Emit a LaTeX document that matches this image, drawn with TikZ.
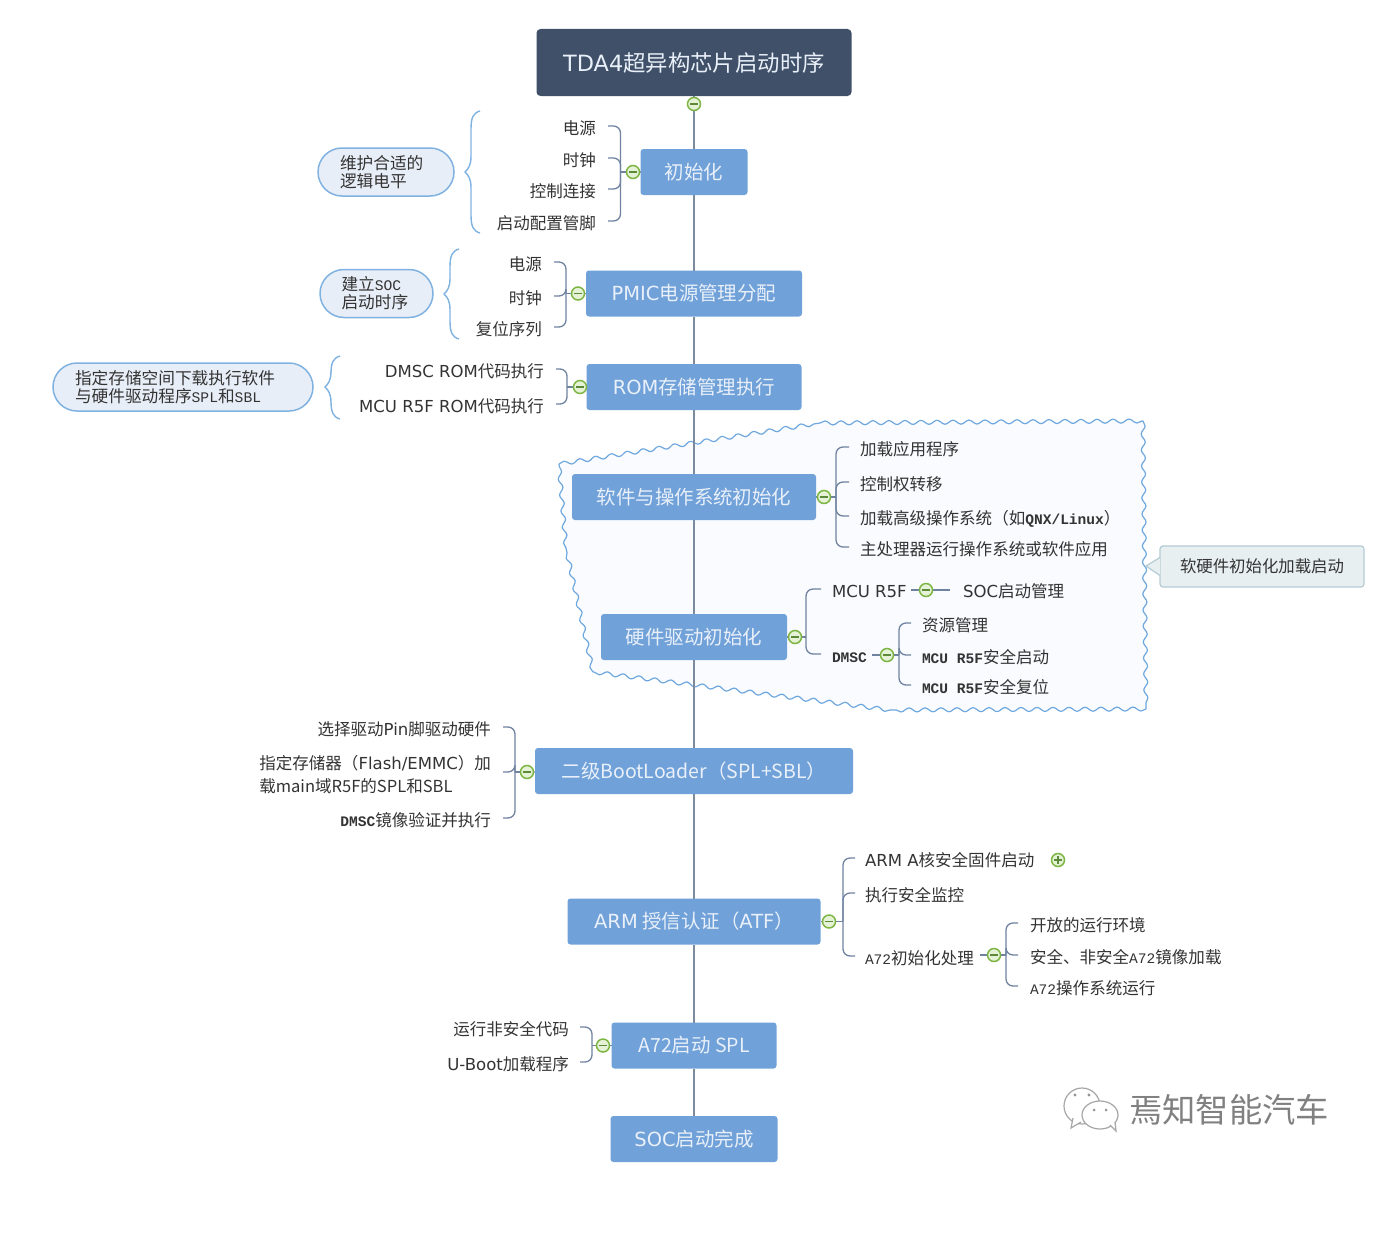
\documentclass[tikz,border=0pt]{standalone}
\usepackage{fontspec}
\setmainfont{Noto Sans CJK SC}
\newfontfamily\lat{DejaVu Sans}
\newfontfamily\mono[Scale=0.88]{Liberation Mono}
\usetikzlibrary{decorations.pathmorphing,backgrounds}
\definecolor{titlefill}{HTML}{3F5068}
\definecolor{boxfill}{HTML}{70A1D9}
\definecolor{boxtext}{HTML}{E9F0F9}
\definecolor{spinecol}{HTML}{7B8A9C}
\definecolor{branchcol}{HTML}{6F83A0}
\definecolor{togline}{HTML}{7DB544}
\definecolor{togfill}{HTML}{E6F2D6}
\definecolor{togbar}{HTML}{5C8A3A}
\definecolor{pillfill}{HTML}{E8EEF7}
\definecolor{pillline}{HTML}{7FB2E0}
\definecolor{wavefill}{HTML}{F9FBFE}
\definecolor{waveline}{HTML}{6FA8DE}
\definecolor{callfill}{HTML}{E8EFF1}
\definecolor{callline}{HTML}{B5CBD3}
\definecolor{leaftext}{HTML}{333333}
\newcommand\PX[1]{#1*0.75pt}
\newcommand\mybrace[4]{%
  \draw[bracecurve] ({#1+15},#2) .. controls ({#1+8},{#2+2}) and ({#1+6},{#2+7}) .. ({#1+6},{#2+18})
    -- ({#1+6},{#3-16}) .. controls ({#1+6},{#3-6}) and ({#1+3},{#3-3}) .. (#1,#3)
    .. controls ({#1+3},{#3+3}) and ({#1+6},{#3+6}) .. ({#1+6},{#3+16})
    -- ({#1+6},{#4-18}) .. controls ({#1+6},{#4-7}) and ({#1+8},{#4-2}) .. ({#1+15},#4);}
\tikzset{
  every node/.style={inner sep=0pt,outer sep=0pt},
  titlebox/.style={fill=titlefill,rounded corners=\PX{4},text=boxtext,font=\fontsize{16.8}{20}\selectfont},
  topic/.style={fill=boxfill,rounded corners=\PX{3},text=boxtext,font=\fontsize{14.6}{17}\selectfont,minimum height=\PX{46}},
  leaf/.style={text=leaftext,font=\fontsize{12.4}{13.5}\selectfont,text height=12.5pt,text depth=0pt},
  leafl/.style={leaf,anchor=east,inner xsep=\PX{12}},
  leafr/.style={leaf,anchor=west,inner xsep=\PX{11}},
  pill/.style={draw=pillline,line width=\PX{1.5},fill=pillfill,rounded corners=\PX{24},minimum height=\PX{48},text=leaftext,font=\fontsize{12.5}{13.5}\selectfont,align=left},
  conn/.style={draw=branchcol,line width=\PX{1.3},rounded corners=\PX{7}},
  spine/.style={draw=spinecol,line width=\PX{1.8}},
  bracecurve/.style={draw=pillline,line width=\PX{1.4}},
  togbase/.style={circle,draw=togline,fill=togfill,line width=\PX{1.5},minimum size=\PX{13}},
  togminus/.style={togbase,path picture={\draw[togbar,line width=\PX{1.2}] ([xshift=-\PX{4}]path picture bounding box.center) -- ([xshift=\PX{4}]path picture bounding box.center);}},
  togplus/.style={togbase,path picture={\draw[togbar,line width=\PX{1.2}] ([xshift=-\PX{4}]path picture bounding box.center) -- ([xshift=\PX{4}]path picture bounding box.center) ([yshift=-\PX{4}]path picture bounding box.center) -- ([yshift=\PX{4}]path picture bounding box.center);}},
  wavearea/.style={fill=wavefill},
  waveedge/.style={draw=waveline,line width=\PX{1.2},decorate,decoration={snake,amplitude=\PX{2},segment length=\PX{16}}},
  callbox/.style={draw=callline,fill=callfill,line width=\PX{1.2},rounded corners=\PX{3},text=leaftext,font=\fontsize{12.3}{15}\selectfont},
  wmark/.style={text=black!50,font=\fontsize{25}{28}\selectfont},
  wicon/.style={draw=black!35,line width=\PX{1.2},fill=white},
  wdot/.style={fill=black!42}
}
\begin{document}
\begin{tikzpicture}[x=0.75pt,y=-0.75pt]
\useasboundingbox (0,0) rectangle (1380,1238);
% main topics
\node[titlebox,minimum width=\PX{315},minimum height=\PX{67}] (title) at (694,62.5) {{\lat TDA4}超异构芯片启动时序};
\node[topic,minimum width=\PX{107}] (init) at (694,172) {初始化};
\node[topic,minimum width=\PX{216}] (pmic) at (694,293.5) {{\lat PMIC}电源管理分配};
\node[topic,minimum width=\PX{215}] (rom) at (694,387) {{\lat ROM}存储管理执行};
\node[topic,minimum width=\PX{244}] (soft) at (694,497) {软件与操作系统初始化};
\node[topic,minimum width=\PX{186}] (hard) at (694,637) {硬件驱动初始化};
\node[topic,minimum width=\PX{318}] (boot) at (694,771) {二级BootLoader（SPL+SBL）};
\node[topic,minimum width=\PX{253}] (atf) at (694,921.5) {{\lat ARM} 授信认证（{\lat ATF}）};
\node[topic,minimum width=\PX{165}] (spl) at (694,1045.5) {A72启动 SPL};
\node[topic,minimum width=\PX{167}] (done) at (694,1139) {{\lat SOC}启动完成};
% init
\node[togminus] (tinit) at (633,172) {};
\coordinate (hinit) at (620.5,172);
\node[leafl] (i1) at (608,126) {电源};
\node[leafl] (i2) at (608,158) {时钟};
\node[leafl] (i3) at (608,189) {控制连接};
\node[leafl] (i4) at (608,221) {启动配置管脚};
% pmic
\node[togminus] (tpmic) at (578,293.5) {};
\coordinate (hpmic) at (566,293.5);
\node[leafl] (p1) at (554,262) {电源};
\node[leafl] (p2) at (554,296) {时钟};
\node[leafl] (p3) at (554,327) {复位序列};
% rom
\node[togminus] (trom) at (580,387) {};
\coordinate (hrom) at (567,387);
\node[leafl] (r1) at (556,369) {{\lat DMSC ROM}代码执行};
\node[leafl] (r2) at (556,404) {{\lat MCU R5F ROM}代码执行};
% soft
\node[togminus] (tsoft) at (824,497) {};
\coordinate (hsoft) at (836,497);
\node[leafr] (s1) at (849,447) {加载应用程序};
\node[leafr] (s2) at (849,482) {控制权转移};
\node[leafr] (s3) at (849,516) {加载高级操作系统（如{\mono\bfseries QNX/Linux}）};
\node[leafr] (s4) at (849,547) {主处理器运行操作系统或软件应用};
% hard
\node[togminus] (thard) at (795,637) {};
\coordinate (hhard) at (806,637);
\node[leafr] (h1) at (821,589) {{\lat MCU R5F}};
\node[leafr] (h2) at (821,654) {{\mono\bfseries DMSC}};
\node[togminus] (th1) at (926,590) {};
\node[leafr,inner xsep=\PX{13}] (h11) at (950,589) {{\lat SOC}启动管理};
\node[togminus] (th2) at (887,655) {};
\coordinate (hh2) at (899,655);
\node[leafr] (h21) at (911,623) {资源管理};
\node[leafr] (h22) at (911,655) {{\mono\bfseries MCU R5F}安全启动};
\node[leafr] (h23) at (911,685) {{\mono\bfseries MCU R5F}安全复位};
% boot
\node[togminus] (tboot) at (527,772) {};
\coordinate (hboot) at (515,772);
\node[leafl] (b1) at (503,727) {选择驱动{\lat Pin}脚驱动硬件};
\node[leafl,align=left,text height=,text depth=] (b2) at (503,774.5) {指定存储器（{\lat Flash/EMMC}）加\\[4pt]载main域R5F的SPL和SBL};
\coordinate (b2s) at (503,772);
\node[leafl] (b3) at (503,818) {{\mono\bfseries DMSC}镜像验证并执行};
% atf
\node[togminus] (tatf) at (829,921.5) {};
\coordinate (hatf) at (843,921.5);
\node[leafr,inner xsep=\PX{10}] (a1) at (855,858) {{\lat ARM A}核安全固件启动};
\node[togplus] (ta1) at (1058,860) {};
\node[leafr,inner xsep=\PX{10}] (a2) at (855,893) {执行安全监控};
\node[leafr,inner xsep=\PX{10}] (a3) at (855,956) {{\mono A72}初始化处理};
\node[togminus] (ta3) at (994,955) {};
\coordinate (ha3) at (1006,955);
\node[leafr,inner xsep=\PX{12}] (a31) at (1018,923) {开放的运行环境};
\node[leafr,inner xsep=\PX{12}] (a32) at (1018,955) {安全、非安全{\mono A72}镜像加载};
\node[leafr,inner xsep=\PX{12}] (a33) at (1018,986) {{\mono A72}操作系统运行};
% spl
\node[togminus] (tspl) at (603,1045.5) {};
\coordinate (hspl) at (592,1045.5);
\node[leafl,inner xsep=\PX{11}] (l1) at (580,1027) {运行非安全代码};
\node[leafl,inner xsep=\PX{11}] (l2) at (580,1062) {{\lat U-Boot}加载程序};
% summary pills
\node[pill,minimum width=\PX{136},text width=\PX{92}] (pa) at (386,172) {维护合适的\\逻辑电平};
\node[pill,minimum width=\PX{113},text width=\PX{70}] (pb) at (376.5,293.5) {建立{\mono SOC}\\启动时序};
\node[pill,minimum width=\PX{260},text width=\PX{216}] (pc) at (183,387) {指定存储空间下载执行软件\\与硬件驱动程序{\mono SPL}和{\mono SBL}};
\mybrace{465}{111}{172}{233}
\mybrace{444}{249}{294}{339}
\mybrace{325}{356}{387}{419}
% callout
\node[callbox,minimum width=\PX{204},minimum height=\PX{41}] (call) at (1262,566.5) {软硬件初始化加载启动};
\coordinate (calltip) at (1146,566);
\fill[callfill] ([yshift=\PX{9}]call.west) -- (calltip) -- ([yshift=-\PX{9}]call.west) -- cycle;
\draw[callline,line width=\PX{1.2}] ([yshift=\PX{9}]call.west) -- (calltip) -- ([yshift=-\PX{9}]call.west);
% watermark
\node[wmark] (wm) at (1229,1110) {焉知智能汽车};
\draw[wicon] (1082,1106) ellipse [x radius=18,y radius=18];
\draw[wicon] (1073,1118) -- (1071,1128) -- (1081,1122);
\draw[wicon] (1100,1115) ellipse [x radius=18,y radius=14];
\draw[wicon] (1110,1125) -- (1116,1131) -- (1115,1122);
\fill[wdot] (1075,1095) circle [radius=1.7] (1089,1095) circle [radius=1.7] (1094,1110) circle [radius=1.5] (1106,1110) circle [radius=1.5];
% connectors
\begin{scope}[on background layer]
  \path[wavearea] (559,464) -- (820,423) -- (1143,421) -- (1146,709) -- (890,710) -- (593,672) -- (566,548) -- cycle;
  \foreach \ax/\ay/\bx/\by in {559/464/820/423,820/423/1143/421,1143/421/1146/709,1146/709/890/710,890/710/593/672,593/672/566/548,566/548/559/464}
    \draw[waveedge] (\ax,\ay) -- (\bx,\by);
  \foreach \a/\b in {title/init,init/pmic,pmic/rom,rom/soft,soft/hard,hard/boot,boot/atf,atf/spl,spl/done}
    \draw[spine] (\a) -- (\b);
  \foreach \h/\t/\n in {hinit/tinit/init,hpmic/tpmic/pmic,hrom/trom/rom,hsoft/tsoft/soft,hhard/thard/hard,hatf/tatf/atf,hspl/tspl/spl,hboot/tboot/boot}
    {\draw[conn] (\h) -- (\t); \draw[conn] (\t) -- (\n);}
  \foreach \c in {i1,i2,i3,i4} \draw[conn] (hinit) |- (\c.east);
  \foreach \c in {p1,p2,p3} \draw[conn] (hpmic) |- (\c.east);
  \foreach \c in {r1,r2} \draw[conn] (hrom) |- (\c.east);
  \foreach \c in {s1,s2,s3,s4} \draw[conn] (hsoft) |- (\c.west);
  \foreach \c in {h1,h2} \draw[conn] (hhard) |- (\c.west);
  \draw[conn] (th1) -- (h11.west |- th1);
  \draw[conn] (th1.west) -- ++(-9,0);
  \draw[conn] (th2) -- (hh2);
  \draw[conn] (th2.west) -- ++(-9,0);
  \foreach \c in {h21,h22,h23} \draw[conn] (hh2) |- (\c.west);
  \foreach \c in {b1,b2s,b3} \draw[conn] (hboot) |- (\c);
  \foreach \c in {a1,a2,a3} \draw[conn] (hatf) |- (\c.west);
  \draw[conn] (ta3) -- (ha3);
  \draw[conn] (ta3.west) -- ++(-8,0);
  \foreach \c in {a31,a32,a33} \draw[conn] (ha3) |- (\c.west);
  \foreach \c in {l1,l2} \draw[conn] (hspl) |- (\c.east);
\end{scope}
% collapse marker on the spine
\node[togminus] (ttitle) at (694,104) {};
\end{tikzpicture}
\end{document}
